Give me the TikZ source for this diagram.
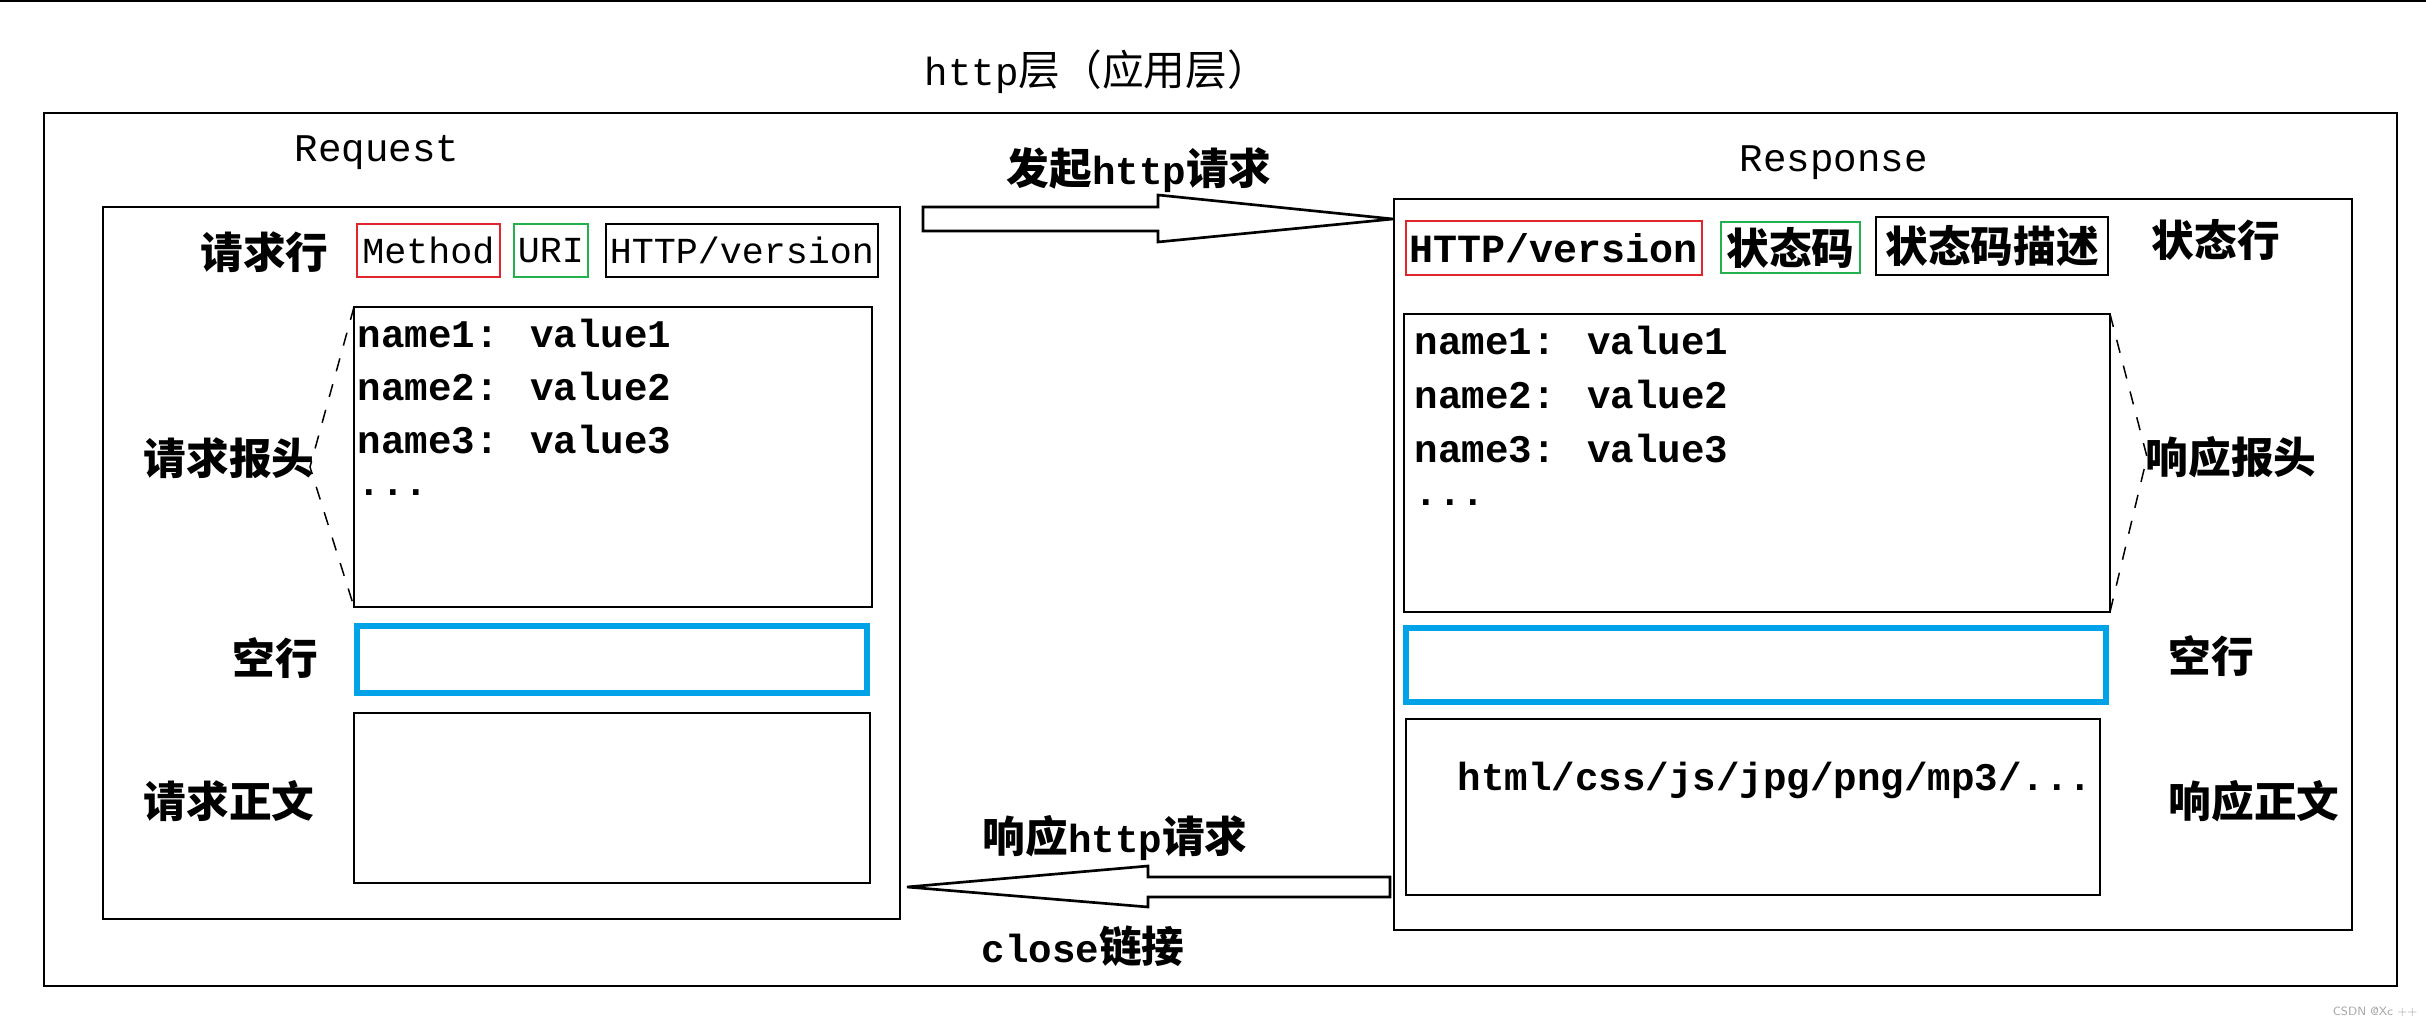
\documentclass[tikz,border=0pt]{standalone}
\usepackage{fontspec}
\setmainfont{Liberation Mono}
\newfontfamily\cjk{Noto Sans CJK SC}
\usetikzlibrary{fit}
\definecolor{pblue}{HTML}{00A2E8}
\definecolor{pred}{HTML}{E0262C}
\definecolor{pgreen}{HTML}{22B14C}
\begin{document}
\begin{tikzpicture}[x=0.3pt,y=-0.3pt,
  boxfit/.style={inner sep=0pt, outer sep=0pt},
  redbox/.style={boxfit, draw=pred, line width=0.6pt},
  greenbox/.style={boxfit, draw=pgreen, line width=0.6pt},
  blackbox/.style={boxfit, draw=black, line width=0.7pt},
  bluebox/.style={boxfit, draw=pblue, line width=1.7pt},
  plainbox/.style={boxfit, draw=black, line width=0.8pt},
  boxtext/.style={inner sep=0pt, font=\fontsize{11}{13}\selectfont},
  zhlabel/.style={anchor=west, inner sep=0pt, font=\fontsize{12.8}{14}\selectfont\cjk\bfseries},
  monob/.style={anchor=west, inner sep=0pt, font=\fontsize{11.75}{14}\selectfont\bfseries},
  monor/.style={anchor=west, inner sep=0pt, font=\fontsize{11.75}{14}\selectfont},
  brace/.style={draw=black, line width=0.45pt, dash pattern=on 4pt off 4pt},
  blockarrow/.style={draw=black, line width=0.8pt, fill=white}
]
\useasboundingbox (0,0) rectangle (2426,1026);
\fill[white] (0,0) rectangle (2426,1026);
% top edge line
\coordinate (tl) at (0,1);
\coordinate (tr) at (2426,1);
\draw[line width=0.6pt] (tl) -- (tr);

% outer frame
\node[plainbox, fit={(44,113) (2397,986)}] (outer) {};
\node[anchor=west, inner sep=0pt] (title) at (924,72)
  {{\fontsize{11.75}{14}\selectfont http}{\fontsize{12.5}{14}\selectfont\cjk 层（应用层）}};

% ---------------- Request ----------------
\node[monor] (reqlbl) at (294,153) {Request};
\node[plainbox, fit={(103,207) (900,919)}] (req) {};
\node[zhlabel] (reqline) at (200,252) {请求行};
\node[redbox, fit={(357,224) (500,277)}] (method) {};
\node[boxtext] at (method.center) {Method};
\node[greenbox, fit={(514,224) (588,277)}] (uri) {};
\node[boxtext] at (uri.center) {URI};
\node[blackbox, fit={(606,224) (878,277)}] (hv1) {};
\node[boxtext] at (hv1.center) {HTTP/version};

\node[plainbox, fit={(354,307) (872,607)}] (reqhdr) {};
\node[monob] (rn1) at (357,334) {name1: value1};
\node[monob] (rn2) at (357,387) {name2: value2};
\node[monob] (rn3) at (357,440) {name3: value3};
\node[monob] (rn4) at (357,493) {...};
\node[zhlabel] (reqhdrlbl) at (143,458) {请求报头};
\coordinate (lb) at (310,467);
\draw[brace] (reqhdr.north west) -- (lb) -- (reqhdr.south west);

\node[bluebox, fit={(357,626) (867,693)}] (reqblank) {};
\node[zhlabel] (reqblanklbl) at (232,658) {空行};
\node[plainbox, fit={(354,713) (870,883)}] (reqbody) {};
\node[zhlabel] (reqbodylbl) at (143,801) {请求正文};

% ---------------- Response ----------------
\node[monor] (resplbl) at (1739,163) {Response};
\node[plainbox, fit={(1394,199) (2352,930)}] (resp) {};
\node[redbox, fit={(1406,221) (1702,275)}] (hv2) {};
\node[boxtext, font=\fontsize{12}{14}\selectfont\bfseries] at (hv2.center) {HTTP/version};
\node[greenbox, fit={(1721,222) (1860,273)}] (code) {};
\node[boxtext, font=\fontsize{12.8}{14}\selectfont\cjk\bfseries] at (code.center) {状态码};
\node[blackbox, fit={(1876,217) (2108,275)}] (codedesc) {};
\node[boxtext, font=\fontsize{12.8}{14}\selectfont\cjk\bfseries] at (codedesc.center) {状态码描述};
\node[zhlabel] (statuslbl) at (2151,240) {状态行};

\node[plainbox, fit={(1404,314) (2110,612)}] (resphdr) {};
\node[monob] (sn1) at (1414,341) {name1: value1};
\node[monob] (sn2) at (1414,395) {name2: value2};
\node[monob] (sn3) at (1414,449) {name3: value3};
\node[monob] (sn4) at (1414,503) {...};
\node[zhlabel] (resphdrlbl) at (2145,457) {响应报头};
\coordinate (rb) at (2147,457);
\draw[brace] (resphdr.north east) -- (rb) -- (resphdr.south east);

\node[bluebox, fit={(1406,628) (2106,702)}] (respblank) {};
\node[zhlabel] (respblanklbl) at (2168,656) {空行};
\node[plainbox, fit={(1406,719) (2100,895)}] (respbody) {};
\node[monob] (bodytxt) at (1457,780) {html/css/js/jpg/png/mp3/...};
\node[zhlabel] (respbodylbl) at (2168,801) {响应正文};

% ---------------- Arrows ----------------
\coordinate (a1s) at (923,219);
\coordinate (a1t) at (1393,219);
\draw[blockarrow] (a1s) ++(0,-12) -- (1158,207) -- (1158,195) -- (a1t)
  -- (1158,242) -- (1158,231) -- (923,231) -- cycle;
\node[anchor=west, inner sep=0pt, font=\fontsize{12.8}{14}\selectfont\bfseries] (sendlbl) at (1006,170)
  {{\cjk 发起}{\fontsize{11.75}{14}\selectfont http}{\cjk 请求}};

\coordinate (a2s) at (1390,887);
\coordinate (a2t) at (907,887);
\draw[blockarrow] (a2s) ++(0,-10) -- (1148,877) -- (1148,866) -- (a2t)
  -- (1148,907) -- (1148,897) -- (1390,897) -- cycle;
\node[anchor=west, inner sep=0pt, font=\fontsize{12.8}{14}\selectfont\bfseries] (answerlbl) at (982,838)
  {{\cjk 响应}{\fontsize{11.75}{14}\selectfont http}{\cjk 请求}};
\node[anchor=west, inner sep=0pt, font=\fontsize{12.8}{14}\selectfont\bfseries] (closelbl) at (981,946)
  {{\fontsize{11.75}{14}\selectfont close}{\cjk 链接}};

% watermark
\node[inner sep=0pt, text=gray!70, font=\fontsize{3.6}{4}\selectfont\sffamily] (wm) at (2375,1012) {CSDN @Xc ++};
\end{tikzpicture}
\end{document}
